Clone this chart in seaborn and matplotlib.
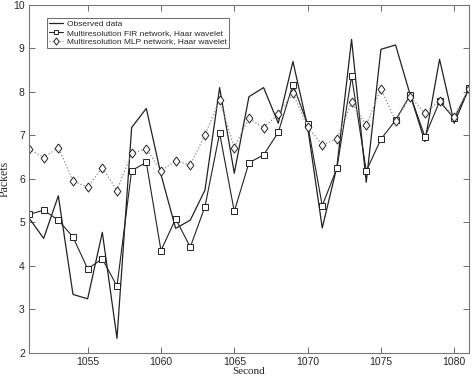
import numpy as np
import pandas as pd
import seaborn as sns
import matplotlib.pyplot as plt

seconds = list(range(1051, 1082))

observed = [5.10, 4.63, 5.61, 3.34, 3.24, 4.77, 2.33, 7.18, 7.62, 6.10,
            4.86, 5.05, 5.74, 8.10, 6.13, 7.89, 8.10, 7.28, 8.70, 7.20,
            4.87, 6.28, 9.21, 5.92, 8.98, 9.08, 7.93, 6.86, 8.75, 7.28,
            8.08]
fir_haar = [5.18, 5.28, 5.05, 4.66, 3.93, 4.16, 3.53, 6.19, 6.38, 4.35,
            5.08, 4.43, 5.36, 7.05, 5.25, 6.37, 6.55, 7.07, 8.17, 7.26,
            5.38, 6.25, 8.36, 6.18, 6.91, 7.35, 7.93, 6.97, 7.78, 7.39,
            8.08]
mlp_haar = [6.69, 6.49, 6.72, 5.95, 5.81, 6.26, 5.73, 6.59, 6.69, 6.19,
            6.41, 6.32, 7.01, 7.81, 6.72, 7.39, 7.18, 7.49, 7.97, 7.19,
            6.78, 6.92, 7.76, 7.24, 8.07, 7.33, 7.89, 7.51, 7.80, 7.43,
            8.07]

labels = ["Observed data",
          "Multiresolution FIR network, Haar wavelet",
          "Multiresolution MLP network, Haar wavelet"]

df = pd.DataFrame({"Second": seconds, "obs": observed, "fir": fir_haar, "mlp": mlp_haar})

# diamond a bit wider than matplotlib's thin 'd'
diamond = [(0, 1), (0.75, 0), (0, -1), (-0.75, 0), (0, 1)]

sns.set_style("ticks")
plt.rcParams["font.family"] = ["Liberation Sans", "DejaVu Sans"]

fig = plt.figure(figsize=(4.74, 3.79), dpi=100)
ax = fig.add_axes([0.0612, 0.0694, 0.928, 0.9174])

sns.lineplot(data=df, x="Second", y="obs", ax=ax, color="#222222", lw=0.9,
             label=labels[0])
sns.lineplot(data=df, x="Second", y="fir", ax=ax, color="#222222", lw=0.8,
             marker="s", markersize=4.3, markerfacecolor="white",
             markeredgecolor="#222222", markeredgewidth=0.7, label=labels[1])
sns.lineplot(data=df, x="Second", y="mlp", ax=ax, color="#888888", lw=0.9,
             linestyle=":", marker=diamond, markersize=6.5, markerfacecolor="white",
             markeredgecolor="#222222", markeredgewidth=0.7, label=labels[2])

ax.set_xlim(1051, 1081)
ax.set_ylim(2, 10)
ax.set_xticks([1055, 1060, 1065, 1070, 1075, 1080])
ax.set_yticks(range(2, 11))
ax.tick_params(direction="in", top=True, right=True, labelsize=7.5,
               length=4, width=0.6, color="#555555", pad=3)
for sp in ax.spines.values():
    sp.set_color("#777777")
    sp.set_linewidth(0.8)

ax.set_xlabel("Second", family=["Liberation Serif"], fontsize=8)
ax.set_ylabel("Packets", family=["Liberation Serif"], fontsize=8.5)
ax.xaxis.set_label_coords(0.5, -0.04)
ax.yaxis.set_label_coords(-0.041, 0.5)

leg = ax.legend(loc="upper left", bbox_to_anchor=(0.041, 0.962), fontsize=6,
                frameon=True, fancybox=False, borderpad=0.25, labelspacing=0.1,
                handlelength=1.7, handletextpad=0.5, borderaxespad=0,
                markerscale=0.8)
leg.get_frame().set_edgecolor("#444444")
leg.get_frame().set_linewidth(0.7)

fig.savefig("out.png", dpi=100)
